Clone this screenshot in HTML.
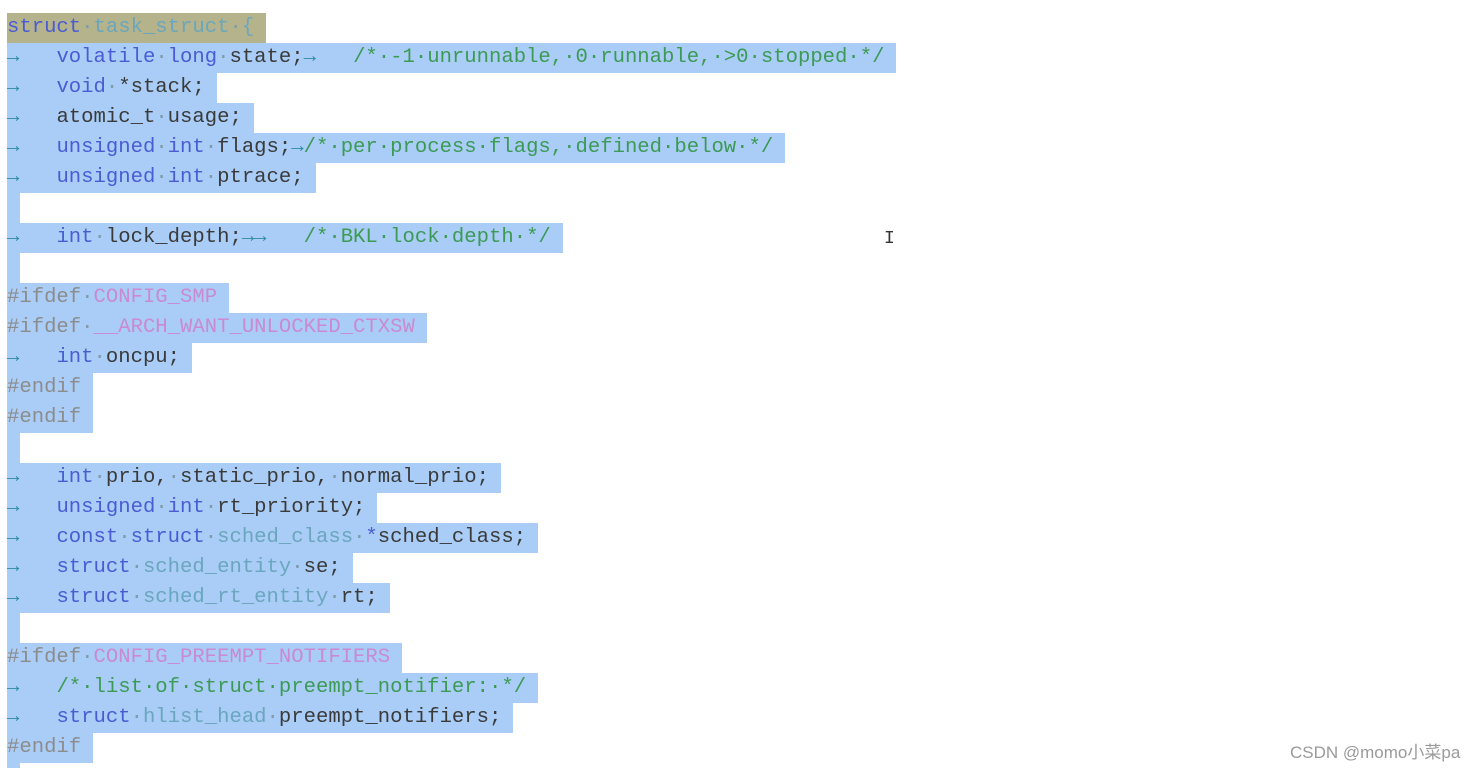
<!DOCTYPE html>
<html><head><meta charset="utf-8"><style>
html,body{margin:0;padding:0;background:#fff;width:1474px;height:768px;overflow:hidden;position:relative}
.l{position:absolute;left:7px;height:30px;line-height:30px;font-family:"Liberation Mono",monospace;font-size:20.6px;white-space:pre;color:#3a3a3a;background:#a9cdf6;padding-right:12px}
.e{width:13px;padding:0}
.o{background:#b4b38c}
.k{color:#4a5bd4}.t{color:#6aa6bd}.c{color:#3c9a55}.p{color:#8c8c8c}.m{color:#c98ad2}.d{color:#7f9aa8}.a{color:#2b8c9c}
.wm{position:absolute;left:1290px;top:738px;font-family:"Liberation Sans","Noto Sans CJK SC",sans-serif;font-size:17px;color:#9a9a9a}
.cur{position:absolute;left:884px;top:229px;font-family:"Liberation Mono",monospace;font-size:18px;color:#333}
</style></head><body>
<div class="l o" style="top:13px"><span class="k">struct</span><span class="d">·</span><span class="t">task_struct</span><span class="d">·</span><span class="t">{</span></div>
<div class="l" style="top:43px"><span class="a">→   </span><span class="k">volatile</span><span class="d">·</span><span class="k">long</span><span class="d">·</span>state;<span class="a">→   </span><span class="c">/*·-1·unrunnable,·0·runnable,·&gt;0·stopped·*/</span></div>
<div class="l" style="top:73px"><span class="a">→   </span><span class="k">void</span><span class="d">·</span>*stack;</div>
<div class="l" style="top:103px"><span class="a">→   </span>atomic_t<span class="d">·</span>usage;</div>
<div class="l" style="top:133px"><span class="a">→   </span><span class="k">unsigned</span><span class="d">·</span><span class="k">int</span><span class="d">·</span>flags;<span class="a">→</span><span class="c">/*·per·process·flags,·defined·below·*/</span></div>
<div class="l" style="top:163px"><span class="a">→   </span><span class="k">unsigned</span><span class="d">·</span><span class="k">int</span><span class="d">·</span>ptrace;</div>
<div class="l e" style="top:193px"></div>
<div class="l" style="top:223px"><span class="a">→   </span><span class="k">int</span><span class="d">·</span>lock_depth;<span class="a">→→   </span><span class="c">/*·BKL·lock·depth·*/</span></div>
<div class="l e" style="top:253px"></div>
<div class="l" style="top:283px"><span class="p">#ifdef</span><span class="d">·</span><span class="m">CONFIG_SMP</span></div>
<div class="l" style="top:313px"><span class="p">#ifdef</span><span class="d">·</span><span class="m">__ARCH_WANT_UNLOCKED_CTXSW</span></div>
<div class="l" style="top:343px"><span class="a">→   </span><span class="k">int</span><span class="d">·</span>oncpu;</div>
<div class="l" style="top:373px"><span class="p">#endif</span></div>
<div class="l" style="top:403px"><span class="p">#endif</span></div>
<div class="l e" style="top:433px"></div>
<div class="l" style="top:463px"><span class="a">→   </span><span class="k">int</span><span class="d">·</span>prio,<span class="d">·</span>static_prio,<span class="d">·</span>normal_prio;</div>
<div class="l" style="top:493px"><span class="a">→   </span><span class="k">unsigned</span><span class="d">·</span><span class="k">int</span><span class="d">·</span>rt_priority;</div>
<div class="l" style="top:523px"><span class="a">→   </span><span class="k">const</span><span class="d">·</span><span class="k">struct</span><span class="d">·</span><span class="t">sched_class</span><span class="d">·</span><span class="k">*</span>sched_class;</div>
<div class="l" style="top:553px"><span class="a">→   </span><span class="k">struct</span><span class="d">·</span><span class="t">sched_entity</span><span class="d">·</span>se;</div>
<div class="l" style="top:583px"><span class="a">→   </span><span class="k">struct</span><span class="d">·</span><span class="t">sched_rt_entity</span><span class="d">·</span>rt;</div>
<div class="l e" style="top:613px"></div>
<div class="l" style="top:643px"><span class="p">#ifdef</span><span class="d">·</span><span class="m">CONFIG_PREEMPT_NOTIFIERS</span></div>
<div class="l" style="top:673px"><span class="a">→   </span><span class="c">/*·list·of·struct·preempt_notifier:·*/</span></div>
<div class="l" style="top:703px"><span class="a">→   </span><span class="k">struct</span><span class="d">·</span><span class="t">hlist_head</span><span class="d">·</span>preempt_notifiers;</div>
<div class="l" style="top:733px"><span class="p">#endif</span></div>
<div class="l e" style="top:763px"></div>
<div class="cur">I</div>
<div class="wm">CSDN @momo小菜pa</div>
</body></html>
